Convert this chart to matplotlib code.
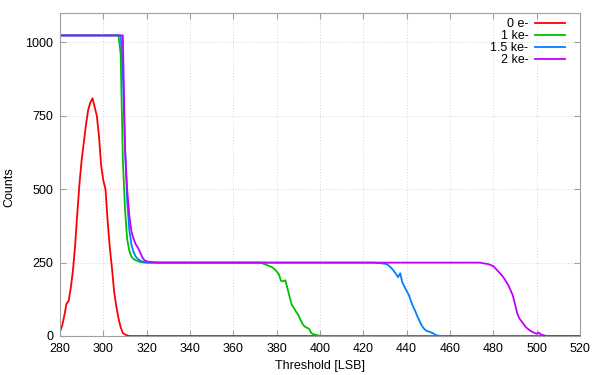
import matplotlib
matplotlib.use('Agg')
import matplotlib.pyplot as plt

plt.rcParams['font.family'] = ['Liberation Sans', 'DejaVu Sans']
plt.rcParams['font.size'] = 9

# threshold scan curves
red_x = [280, 281, 282, 283, 284, 285, 286, 287, 288, 289, 290, 291, 292, 293,
         294, 295, 296, 297, 298, 299, 300, 301, 302, 303, 304, 305, 306, 307,
         308, 309, 310, 311, 312, 520]
red_y = [15, 35, 70, 110, 120, 165, 225, 310, 420, 520, 600, 660, 720, 770,
         795, 810, 780, 750, 680, 580, 530, 500, 390, 300, 230, 150, 100, 60,
         30, 10, 5, 2, 0, 0]

green_x = [280, 307, 308, 309, 310, 311, 312, 313, 314, 315, 316, 317, 318, 319,
           372, 373, 374, 375, 376, 377, 378, 379, 380, 381, 382, 383, 384, 385,
           386, 387, 388, 389, 390, 391, 392, 393, 394, 395, 396, 397, 398, 399,
           400, 401, 520]
green_y = [1024, 1024, 960, 600, 430, 330, 290, 270, 262, 258, 255, 252, 251, 250,
           250, 249, 246, 243, 240, 237, 234, 228, 220, 210, 188, 186, 190, 162,
           132, 106, 95, 82, 72, 55, 40, 32, 28, 24, 10, 6, 4, 2,
           1, 0, 0]

blue_x = [280, 308, 309, 310, 311, 312, 313, 314, 315, 316, 317, 318, 319, 320,
          321, 425, 426, 428, 430, 431, 432, 433, 434, 435, 436, 437, 438, 439,
          440, 441, 442, 443, 444, 445, 446, 447, 448, 449, 450, 451, 452, 453,
          454, 455, 456, 520]
blue_y = [1024, 1024, 900, 640, 460, 360, 310, 285, 270, 262, 257, 254, 252, 251,
          250, 250, 249, 248, 246, 244, 238, 231, 222, 212, 200, 214, 182, 168,
          153, 140, 118, 100, 84, 66, 50, 35, 25, 18, 16, 13, 10, 5,
          2, 1, 0, 0]

purple_x = [280, 309, 310, 311, 312, 313, 314, 315, 316, 317, 318, 319, 320, 322,
            325, 474, 475, 476, 477, 478, 479, 480, 481, 482, 483, 484, 485, 486,
            487, 488, 489, 490, 491, 492, 493, 494, 495, 496, 497, 498, 499, 500,
            501, 502, 503, 504, 505, 520]
purple_y = [1024, 1024, 640, 500, 410, 355, 330, 312, 300, 285, 268, 258, 254, 252,
            250, 250, 248, 247, 246, 244, 241, 238, 230, 222, 214, 206, 196, 184,
            172, 155, 138, 108, 78, 60, 50, 40, 30, 24, 18, 14, 10, 8,
            11, 5, 3, 1, 0, 0]

labels = ['0 e-', '1 ke-', '1.5 ke-', '2 ke-']
colors = ['#ff0000', '#00c000', '#0080ff', '#c000ff']
x_ticks = list(range(280, 521, 20))
y_ticks = [0, 250, 500, 750, 1000]

fig = plt.figure(figsize=(6, 3.75), dpi=100)
ax = fig.add_axes([0.1, 0.104, 0.8667, 0.861])

series = [(red_x, red_y), (green_x, green_y), (blue_x, blue_y), (purple_x, purple_y)]
for (xs, ys), lab, c in zip(series, labels, colors):
    ax.plot(xs, ys, color=c, lw=1.3, label=lab)

ax.set_xlim(280, 520)
ax.set_ylim(0, 1100)
ax.set_xticks(x_ticks)
ax.set_yticks(y_ticks)
ax.tick_params(direction='in', length=4, color='#a0a0a0', top=True, right=True,
               labelsize=9, pad=5)
ax.grid(True, color='#d4d4d4', linestyle=(0, (1, 2)), lw=0.7)
for s in ax.spines.values():
    s.set_color('#a0a0a0')
    s.set_linewidth(0.8)

ax.set_xlabel('Threshold [LSB]', labelpad=4)
fig.text(0.016, 0.5, 'Counts', rotation=90, ha='center', va='center', fontsize=9)

leg = ax.legend(loc='upper right', bbox_to_anchor=(0.98, 1.0), frameon=False,
                markerfirst=False, handlelength=2.4, labelspacing=0.0,
                handletextpad=0.5, borderaxespad=0.2, borderpad=0.2)
for t in leg.get_texts():
    t.set_ha('right')

fig.savefig('out.png', dpi=100)
